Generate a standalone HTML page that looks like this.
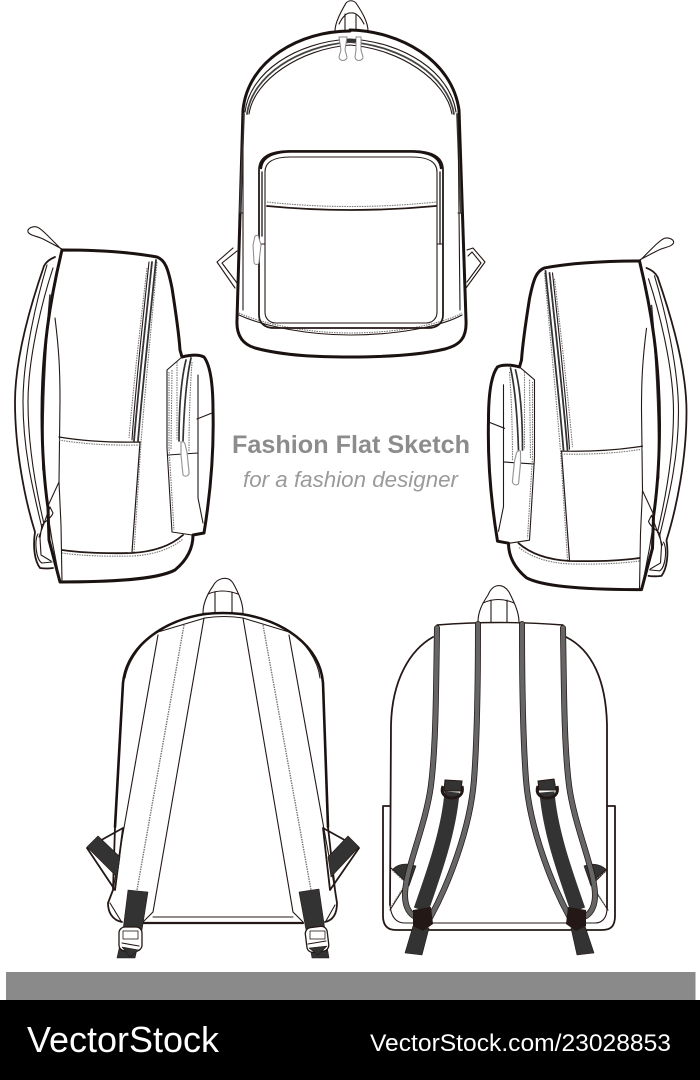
<!DOCTYPE html>
<html><head><meta charset="utf-8"><style>
html,body{margin:0;padding:0;background:#fff;width:700px;height:1080px;overflow:hidden}
svg{display:block}
text{font-family:"Liberation Sans",sans-serif}
.t{fill:none;stroke:#231815;stroke-width:1.1;stroke-linejoin:round;stroke-linecap:round}
.m{fill:none;stroke:#231815;stroke-width:1.8;stroke-linejoin:round;stroke-linecap:round}
.b{fill:none;stroke:#1a1210;stroke-width:3;stroke-linejoin:round;stroke-linecap:round}
.d{fill:none;stroke:#777;stroke-width:1.1;stroke-dasharray:1.5 1}
.g{fill:none;stroke:#333;stroke-width:1.8;stroke-linecap:round}
.k{fill:#333;stroke:#231815;stroke-width:.6;stroke-linejoin:round}
</style></head><body>
<svg width="700" height="1080" viewBox="0 0 700 1080" xmlns="http://www.w3.org/2000/svg">
<rect width="700" height="1080" fill="#fff"/>

<!-- FRONT -->
<g>
<path class="t" d="M233 248L217 262L235 288M237 251L222 263L237 283"/>
<path class="t" d="M467 250L473 248L485 262L466 288M468 256L472 252L481 263L467 282"/>
<path class="t" fill="#fff" d="M335 31C335 22 342 10 346 3C349 0 353 0 356 3C362 12 368 22 368 31"/>
<path class="t" d="M339 24Q345 12 351 13Q358 12 364 24M345 31V14M356 31V14"/>
<path class="b" d="M350 31C300 31 248 60 243 110L237 320C236 338 245 345 255 348C285 356 320 357 350 357C385 357 420 355 445 349C460 345 467 338 466 320L459 110C452 60 400 31 350 30Z"/>
<path class="t" d="M245 112C250 72 296 42 350 39C404 42 450 72 456 112"/>
<path class="g" d="M247 114C252 76 298 46 350 42C402 46 448 76 454 114" style="stroke:#444"/>
<path class="t" d="M249 114C254 80 300 49 350 45C400 49 446 80 452 114"/>
<path class="g" d="M244 114L240 213M457 114L461 213" style="stroke:#444"/>
<path class="t" d="M243 114L243 310M458 114L460 310M239 213H243M458 213H462"/>
<path class="d" d="M239 313C265 325 310 333 350 333C395 333 440 325 462 313"/>
<path class="t" d="M239 315C265 327 310 335 350 335C395 335 440 327 462 315"/>
<path class="m" d="M259 170C259 157 270 151 290 151H412C432 151 443 157 443 170V315C443 324 436 328 428 328H274C266 328 259 324 259 315Z"/>
<path class="b" d="M261 168C262 157 272 152 290 151.500H412C430 152 440 157 441 168" style="stroke-width:2.400"/>
<path class="t" d="M265 172C265 162 274 157 290 157H412C428 157 437 162 437 172V312C437 319 432 323 426 323H276C270 323 265 319 265 312Z"/>
<path class="g" d="M262 236V172M440 244V172" style="stroke-width:1.600;stroke:#444"/>
<path class="m" d="M267 206Q350 214 436 206"/>
<path class="d" d="M267 202Q350 211 436 202"/>
<path class="t" d="M259 244H265M437 244H443"/>
<path d="M255 236L258 235L261 245L259 262A2.500 2.500 0 0 1 254 262L253 245Z" fill="#fff" stroke="#888"/>
<g fill="#fff" stroke="#888" stroke-width="1">
<path d="M339 37H347L345 50L347 57A4 3.500 0 0 1 339 57L341 50Z"/>
<path d="M356 37H361L361 50L363 57A4 3.500 0 0 1 355 57L356 50Z"/>
</g>
<rect x="347" y="39" width="9" height="3" fill="#333"/>
</g>

<defs>
<g id="side">
<path class="t" fill="#fff" d="M62 249L45 240C38 236 30 236 28 232C27 228 33 226 37 227C42 229 50 238 62 250"/>
<path class="m" d="M55 257C50 259 46 262 44 266C34 295 15 355 15 402C15 450 25 500 35 532C33 545 34 560 40 568Q47 569 53 568"/>
<path class="t" d="M47 265C38 295 23 355 23 402C23 450 33 490 42 528M53 268C44 295 28 355 28 402C28 445 36 490 44 524"/>
<path class="t" d="M39 537L50 507L53 513C52 517 47 520 42 525L40 538L41 555L51 561M38 534C34 540 36 560 42 563L52 562"/>
<path class="g" d="M50 295C46 340 42 400 43 470" style="stroke-width:1.600"/>
<path class="b" d="M62 250C95 250 130 252 157 257C165 260 168 268 172 288C177 320 179 335 180 350L182 357C190 355 198 354 204 357C210 365 213 382 213 410C214 450 211 490 204 533L193 535C193 548 187 560 175 570C160 578 125 582 60 582L49 540L48 508C44 480 42 450 42 415C42 350 50 300 62 250Z"/>
<path class="t" d="M55 318C59 350 60 370 60 400L59 482L61 525L62 582M59 482L47 508L52 540L60 582"/>
<path class="m" d="M59 437Q95 443 140 442L132 552" style="stroke-width:1.200"/>
<path class="d" d="M59 440Q95 446 140 445"/>
<path class="m" d="M62 550Q90 554 132 553Q165 551 183 535"/>
<path class="d" d="M62 553Q90 557 133 556Q165 554 183 539"/>
<path class="d" d="M147 268C141 320 134 380 129 438M157 262C152 320 146 380 141 442L134 552"/>
<path class="g" d="M152 262C146 320 139 380 134 441" style="stroke-width:1.800"/>
<path class="g" d="M156 260C150 320 143 380 138 441" style="stroke-width:1.800"/>
<path class="t" d="M149 262C143 320 136 380 132 440"/>
<path class="t" d="M182 357L167 370V448L172 532L192 535M168 455L198 453M197 419L212 413M198 375V498L203 523"/>
<path class="d" d="M169 372V448L174 530M172 370L171 450"/>
<path class="g" d="M186 360C181 380 179 410 179 441M191 358C186 380 184 410 183 441" style="stroke-width:1.700"/>
<path class="d" d="M177 362V440M192 362C190 390 189 420 189 452"/>
<path d="M181 442Q184 441 185 444L187 452L189 472A3.500 3.500 0 0 1 183 475L181 455Z" fill="#fff" stroke="#999" stroke-width="1.200"/>
</g>
</defs>

<use href="#side"/>
<use href="#side" transform="matrix(-1 0 0 .99 701.500 13.500)"/>

<!-- TEXT -->
<text x="232" y="453" font-size="25" font-weight="700" fill="#8c8c8c" textLength="238" lengthAdjust="spacingAndGlyphs">Fashion Flat Sketch</text>
<text x="243" y="487" font-size="22" font-style="italic" fill="#9a9a9a" textLength="215" lengthAdjust="spacingAndGlyphs">for a fashion designer</text>

<!-- BACK A -->
<g>
<path class="t" d="M203 613C203 604 206 596 213 586C217 578 228 575 233 583C238 592 243 602 243 613"/>
<path class="t" d="M208 594Q222 588 238 594M215 592V613M232 592V613"/>
<path class="b" d="M205 614C165 620 127 645 123 683L115 827M241 614C282 620 320 645 323 683L328 827" style="stroke-width:2.600"/>
<path class="b" d="M205 614Q223 612 241 614" style="stroke-width:2.600"/>
<path class="t" d="M205 618Q224 615 243 618L289 632C304 640 318 660 320 678M205 618L158 632C143 640 128 660 125 678"/>
<path class="m" d="M115 827L113 890L108 903C108 912 112 920 122 922M328 827L335 890L337 903C337 912 334 920 325 922"/>
<path class="t" d="M110 903L121 921M335 905L326 921"/>
<path class="m" d="M143 923H303" style="stroke-width:2.200"/>
<path class="t" d="M153 917H293"/>
<path class="t" d="M158 635L113 890M204 618L153 912L143 922M243 618L293 912L303 922M289 635L335 890"/>
<path class="d" d="M184 625L137 890M263 625L311 890" style="stroke-width:1.400"/>
<path class="m" fill="#fff" d="M105 838L123 828L115 890L87 848Z"/>
<path class="m" fill="#fff" d="M341 838L323 828L330 890L359 848Z"/>
<path class="k" d="M87 847L98 836L120 857L117 877Z"/>
<path class="k" d="M359 847L348 836L328 857L331 877Z"/>
<path class="k" d="M128 890L148 892L142 930L123 930ZM121 940L139 940L135 958L117 958Z"/>
<path class="k" d="M299 892L319 889L325 930L306 930ZM309 940L326 940L329 958L312 958Z"/>
<rect x="119" y="927" width="23" height="24" rx="6" fill="#fff" stroke="#231815" stroke-width="1.300"/>
<rect x="123" y="931" width="15" height="8" fill="#fff" stroke="#231815" stroke-width=".8"/>
<path class="t" d="M122 943L139 946"/>
<path class="k" d="M122 947L139 950L130 957Z"/>
<rect x="306" y="927" width="22" height="25" rx="6" fill="#fff" stroke="#231815" stroke-width="1.300" transform="rotate(-7 316 939)"/>
<rect x="310" y="931" width="15" height="8" fill="#fff" stroke="#231815" stroke-width=".8"/>
<path class="t" d="M308 944L326 941"/>
<path class="k" d="M309 948L327 946L318 955Z"/>
</g>

<!-- BACK B -->
<g>
<path class="t" d="M478 622C478 612 482 604 488 595C493 583 503 583 509 592C514 602 519 612 519 622"/>
<path class="t" d="M483 603Q498 596 514 603M491 600V622M507 600V622"/>
<path class="m" d="M437 625Q500 620 563 625" style="stroke-width:1.400"/>
<path class="m" d="M433 637C410 650 392 680 391 725L390 905M566 637C592 650 606 680 607 725V908"/>
<path class="m" d="M390 806H383V916C383 926 388 930 396 930H602C611 930 615 926 615 916V806H607"/>
<path class="t" d="M390 905C391 917 396 923 405 923H595C603 923 607 917 607 908"/>
<path class="k" d="M393 869Q401 861 416 866L409 886Z"/>
<path class="k" d="M607 870Q597 861 584 866L591 886Z"/>
<path class="t" d="M391 868L407 883L390 910M607 869L590 883L608 910"/>
<path class="d" d="M392 870L406 883L391 907M606 871L591 883L606 907"/>

<g fill="none" stroke-linecap="round">
<g stroke="#231815" stroke-width="6">
<path d="M437 628C436 690 436 745 431 785C426 825 405 870 405 895C405 905 408 912 414 916"/>
<path d="M478 624C478 690 477 740 474 780C470 830 448 885 430 918"/>
<path d="M522 624C522 690 523 740 526 780C530 830 552 885 570 918"/>
<path d="M563 628C564 690 564 745 569 785C574 825 595 870 595 895C595 905 592 912 586 916"/>
</g>
<g stroke="#666" stroke-width="4.500">
<path d="M437 628C436 690 436 745 431 785C426 825 405 870 405 895C405 905 408 912 414 916"/>
<path d="M478 624C478 690 477 740 474 780C470 830 448 885 430 918"/>
<path d="M522 624C522 690 523 740 526 780C530 830 552 885 570 918"/>
<path d="M563 628C564 690 564 745 569 785C574 825 595 870 595 895C595 905 592 912 586 916"/>
</g>
</g>
<path d="M452 792C449 830 435 870 421 910" fill="none" stroke="#333" stroke-width="15"/>
<path d="M547 792C550 830 564 870 578 910" fill="none" stroke="#333" stroke-width="15"/>
<path class="k" d="M413 926L429 928L422 955L405 953Z"/>
<path class="k" d="M585 926L571 928L577 955L594 953Z"/>
<path fill="#231815" d="M413 910L431 907L433 924L423 931L413 926Z"/>
<path fill="#231815" d="M586 910L568 907L566 924L576 931L586 926Z"/>
<path fill="none" stroke="#231815" stroke-width="3" d="M443 786C440 794 446 798 452 798C459 798 464 794 462 786"/>
<path fill="none" stroke="#231815" stroke-width="3" d="M538 786C535 794 541 798 547 798C554 798 559 794 557 786"/>
<path fill="#333" stroke="#231815" d="M445 780L462 781L461 791H444Z"/>
<path fill="#333" stroke="#231815" d="M538 781L554 779L556 790H539Z"/>
</g>

<!-- FOOTER -->
<rect x="6" y="972" width="689.500" height="28" fill="#8a8a8a"/>
<rect x="0" y="1000" width="700" height="80" fill="#000"/>
<text x="27" y="1052" font-size="36" fill="#fff" textLength="192" lengthAdjust="spacingAndGlyphs">VectorStock</text>
<text x="370" y="1051" font-size="24" fill="#fff" textLength="301" lengthAdjust="spacingAndGlyphs">VectorStock.com/23028853</text>
</svg>
</body></html>
